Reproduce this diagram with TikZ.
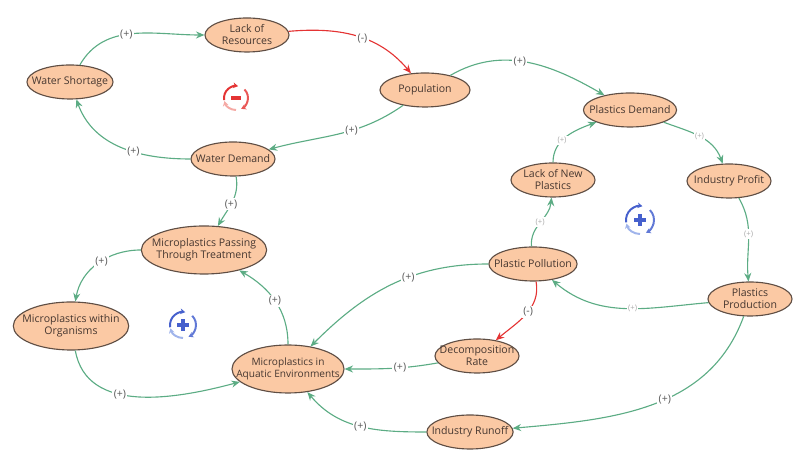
\documentclass[tikz,border=0pt]{standalone}
\usepackage{fontspec}
\setmainfont{Open Sans}
\usepackage{tikz}
\usetikzlibrary{shapes.geometric,arrows.meta}
\definecolor{vfill}{RGB}{251,201,164}
\definecolor{vline}{RGB}{95,78,68}
\definecolor{vtext}{RGB}{70,55,48}
\definecolor{lgreen}{RGB}{92,172,132}
\definecolor{lred}{RGB}{228,52,52}
\definecolor{lblue}{RGB}{70,96,205}
\definecolor{lbluel}{RGB}{160,180,235}
\definecolor{lredl}{RGB}{245,170,165}
\tikzset{
  var/.style={ellipse,draw=vline,fill=vfill,thick,inner xsep=-5.5pt,inner ysep=0pt,minimum width=2.1cm,minimum height=0.85cm,
    align=center,text=vtext,font=\fontsize{7.5}{8.5}\selectfont},
  bigvar/.style={var,minimum width=2.8cm,minimum height=1.2cm},
  poslink/.style={draw=lgreen,thick,-{Stealth[length=6pt,width=5pt]}},
  neglink/.style={draw=lred,thick,-{Stealth[length=6pt,width=5pt]}},
  lbl/.style={fill=white,inner sep=1pt,text=gray!70!black,font=\fontsize{7.5}{8}\selectfont},
  slbl/.style={lbl,text=gray!65,font=\fontsize{5.5}{6}\selectfont}
}
\begin{document}
\begin{tikzpicture}[x=0.025cm,y=0.025cm]
\useasboundingbox (0,0) rectangle (800,457);
\node[var] (res) at (247,422) {Lack of\\Resources};
\node[var] (short) at (70,375) {Water Shortage};
\node[var,minimum width=2.25cm] (pop) at (425,367) {Population};
\node[var] (wdem) at (233,298) {Water Demand};
\node[var] (pdem) at (630,347) {Plastics Demand};
\node[var] (lnew) at (553,277) {Lack of New\\Plastics};
\node[var] (prof) at (729,276) {Industry Profit};
\node[var] (poll) at (533,193) {Plastic Pollution};
\node[var] (prod) at (750,158) {Plastics\\Production};
\node[bigvar] (treat) at (204,207) {Microplastics Passing\\Through Treatment};
\node[bigvar] (org) at (71,131) {Microplastics within\\Organisms};
\node[bigvar,inner xsep=-9pt,font=\fontsize{7.2}{8.5}\selectfont] (aqua) at (288,88) {Microplastics in\\Aquatic Environments};
\node[var] (decomp) at (477,101) {Decomposition\\Rate};
\node[var] (runoff) at (470,25) {Industry Runoff};
\draw[poslink] (short) to[out=60,in=180] node[lbl,pos=0.45] {(+)} (res);
\draw[neglink] (res) to[out=5,in=130] node[lbl,pos=0.55] {(-)} (pop);
\draw[poslink] (pop) to[out=215,in=15] node[lbl,pos=0.4] {(+)} (wdem);
\draw[poslink] (wdem) to[out=180,in=-70] node[lbl,pos=0.4] {(+)} (short);
\draw[poslink] (wdem) to[out=-80,in=60] node[lbl,pos=0.55] {(+)} (treat);
\draw[poslink] (pop) to[out=30,in=150] node[lbl,pos=0.45] {(+)} (pdem);
\draw[poslink] (pdem) to[out=-20,in=110] node[slbl,pos=0.5] {(+)} (prof);
\draw[poslink] (prof) to[out=-60,in=95] node[slbl,pos=0.45] {(+)} (prod);
\draw[poslink] (prod) to[out=185,in=-40] node[slbl,pos=0.45] {(+)} (poll);
\draw[poslink] (poll) to[out=95,in=-95] node[slbl,pos=0.5] {(+)} (lnew);
\draw[poslink] (lnew) to[out=90,in=200] node[slbl,pos=0.4] {(+)} (pdem);
\draw[neglink] (poll) to[out=-80,in=40] node[lbl,pos=0.45] {(-)} (decomp);
\draw[poslink] (decomp) to[out=190,in=0] node[lbl,pos=0.4] {(+)} (aqua);
\draw[poslink] (poll) to[out=180,in=45] node[lbl,pos=0.4] {(+)} (aqua);
\draw[poslink] (prod) to[out=-110,in=5] node[lbl,pos=0.45] {(+)} (runoff);
\draw[poslink] (runoff) to[out=180,in=-50] node[lbl,pos=0.5] {(+)} (aqua);
\draw[poslink] (aqua) to[out=90,in=-30] node[lbl,pos=0.5] {(+)} (treat);
\draw[poslink] (treat) to[out=180,in=80] node[lbl,pos=0.45] {(+)} (org);
\draw[poslink] (org) to[out=-80,in=195] node[lbl,pos=0.4] {(+)} (aqua);
\foreach \cx/\cy/\r/\ca/\cb in {236/359/12/lred/lredl}{
  \draw[\ca,line width=1.4pt,-{Stealth[length=3.5pt,width=4pt]}] (\cx,\cy) ++(190:\r) arc (190:80:\r);
  \draw[\ca!70!\cb,line width=1.4pt,-{Stealth[length=3.5pt,width=4pt]}] (\cx,\cy) ++(45:\r) arc (45:-65:\r);
  \draw[\cb,line width=1.4pt,-{Stealth[length=3.5pt,width=4pt]}] (\cx,\cy) ++(-90:\r) arc (-90:-165:\r);
  \draw[\ca,line width=2.2pt] (\cx-5,\cy) -- (\cx+5,\cy);
}
\foreach \cx/\cy/\r/\ca/\cb in {640/237/14/lblue/lbluel,183/132/13/lblue/lbluel}{
  \draw[\ca,line width=1.4pt,-{Stealth[length=3.5pt,width=4pt]}] (\cx,\cy) ++(190:\r) arc (190:80:\r);
  \draw[\ca!70!\cb,line width=1.4pt,-{Stealth[length=3.5pt,width=4pt]}] (\cx,\cy) ++(45:\r) arc (45:-65:\r);
  \draw[\cb,line width=1.4pt,-{Stealth[length=3.5pt,width=4pt]}] (\cx,\cy) ++(-90:\r) arc (-90:-165:\r);
  \draw[\ca,line width=2.2pt] (\cx-6,\cy) -- (\cx+6,\cy) (\cx,\cy-6) -- (\cx,\cy+6);
}
\end{tikzpicture}
\end{document}
